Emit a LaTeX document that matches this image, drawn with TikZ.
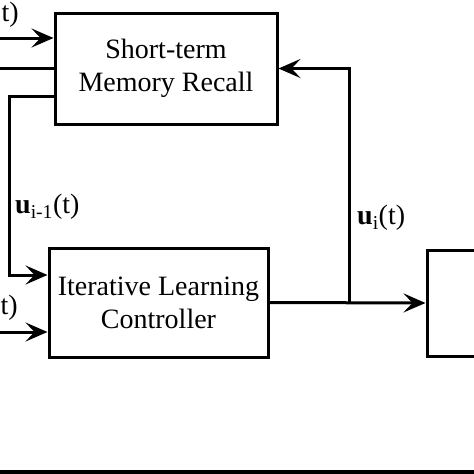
\documentclass[tikz,border=0pt]{standalone}
\usepackage{fontspec}
\setmainfont{Liberation Serif}
\usepackage{tikz}
\usetikzlibrary{positioning}
\usetikzlibrary{calc}
\usetikzlibrary{arrows.meta}
\tikzset{%
  sig/.style = {-{Stealth[length=22pt,width=19pt,inset=9pt]},line width=3pt},
  wire/.style = {line width=3pt},
  blk/.style = {rectangle,draw,line width=3pt,align=center,
        font=\fontsize{28}{33}\selectfont},
  lbl/.style = {inner sep=0pt,font=\fontsize{28}{33}\selectfont}
}
\begin{document}
\begin{tikzpicture}[x=1pt,y=-1pt]
    \useasboundingbox (0,0) rectangle (474,474);
    \node[blk,minimum width=222pt,minimum height=111pt] (stm) at (166,68.5)
        {Short-term\\Memory Recall};
    \node[blk,minimum width=219pt,minimum height=109pt] (ilc) at (158.5,302.5)
        {Iterative Learning\\Controller};
    \node[blk,minimum width=100pt,minimum height=106pt] (plant) at (477,303) {};
    \coordinate (in1) at (0,38);
    \coordinate (in2) at (0,68.5);
    \coordinate (in3) at (0,332);
    \coordinate (junc) at (349,302.5);
    \draw[sig] (in1) -- (in1 -| stm.west);
    \draw[wire] (in2) -- (stm.west);
    \draw[sig] ([yshift=-27.5pt]stm.west) -- ++(-44,0)
        |- ([yshift=27.5pt]ilc.west);
    \draw[sig] (in3) -- (in3 -| ilc.west);
    \draw[sig] (ilc.east) -- (plant.west);
    \draw[sig] (junc) |- (stm.east);
    \node[lbl,anchor=east] (y1) at (19,15) {t)};
    \node[lbl,anchor=east] (y2) at (18,308) {t)};
    \node[lbl,anchor=west] (uold) at (15,207) {\textbf{u}\textsubscript{i-1}(t)};
    \node[lbl,anchor=west] (unew) at (357,218) {\textbf{u}\textsubscript{i}(t)};
    \draw[line width=4pt] (0,472) -- (474,472);
\end{tikzpicture}
\end{document}
